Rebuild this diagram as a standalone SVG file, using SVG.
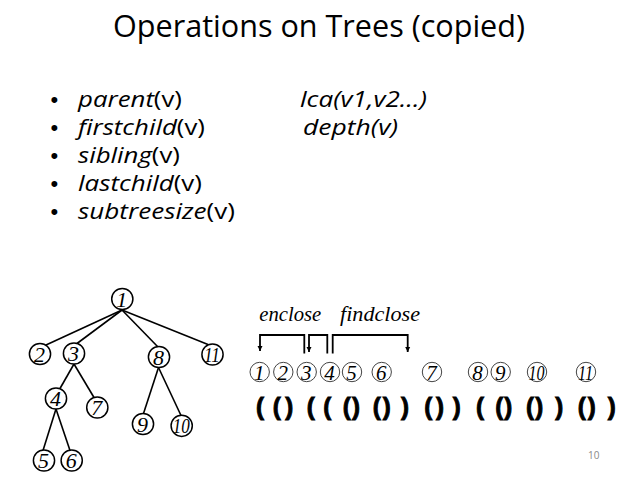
<svg xmlns="http://www.w3.org/2000/svg" width="638" height="478" viewBox="0 0 638 478">
<style>
.title{font-family:"Open Sans","Liberation Sans",sans-serif;font-size:31px;fill:#000}
.item{font-family:"Open Sans","Liberation Sans",sans-serif;font-size:21px;fill:#000}
.bul{font-family:"Liberation Sans",Arial,sans-serif;font-size:22px;fill:#000}
.it{font-style:italic}
.tn circle{fill:#fff;stroke:#000;stroke-width:1.5}
.sn circle{fill:#fff;stroke:#444;stroke-width:1}
.num{font-family:"Liberation Serif","Times New Roman",serif;font-style:italic;font-size:22px;fill:#000;text-anchor:middle}
.sn .num{font-size:21px}
.edge{stroke:#000;stroke-width:1.6;fill:none}
.br{stroke:#000;stroke-width:1.8;fill:none}
.lbl{font-family:"Liberation Serif","Times New Roman",serif;font-style:italic;font-size:20px;fill:#000}
.par{font-family:"Liberation Sans",Arial,sans-serif;font-weight:bold;font-size:24px;fill:#000;stroke:#000;stroke-width:0.9;text-anchor:middle}
.pg{font-family:"Open Sans","Liberation Sans",sans-serif;font-size:10px;fill:#888}
</style>
<defs>
<marker id="ah" viewBox="0 0 10 10" refX="10" refY="5" markerWidth="5" markerHeight="6" markerUnits="userSpaceOnUse" orient="auto">
<path d="M0,0 L10,5 L0,10 z" fill="#000"/>
</marker>
</defs>
<rect width="638" height="478" fill="#fff"/>
<text class="title" x="113" y="37" textLength="412" lengthAdjust="spacingAndGlyphs">Operations on Trees (copied)</text>
<g id="bullets">
<text class="bul" x="50.5" y="106.5">•</text>
<text class="bul" x="50.5" y="135">•</text>
<text class="bul" x="50.5" y="163">•</text>
<text class="bul" x="50.5" y="191">•</text>
<text class="bul" x="50.5" y="218.5">•</text>
<text class="item" x="78" y="106.5" textLength="104" lengthAdjust="spacingAndGlyphs"><tspan class="it">parent</tspan>(v)</text>
<text class="item" x="78" y="135" textLength="127" lengthAdjust="spacingAndGlyphs"><tspan class="it">firstchild</tspan>(v)</text>
<text class="item" x="78" y="163" textLength="102" lengthAdjust="spacingAndGlyphs"><tspan class="it">sibling</tspan>(v)</text>
<text class="item" x="78" y="191" textLength="124" lengthAdjust="spacingAndGlyphs"><tspan class="it">lastchild</tspan>(v)</text>
<text class="item" x="78" y="218.5" textLength="157" lengthAdjust="spacingAndGlyphs"><tspan class="it">subtreesize</tspan>(v)</text>
<text class="item it" x="300" y="106.5" textLength="127" lengthAdjust="spacingAndGlyphs">lca(v1,v2…)</text>
<text class="item it" x="303" y="135" textLength="95" lengthAdjust="spacingAndGlyphs">depth(v)</text>
</g>
<g id="tree-edges">
<line class="edge" x1="122" y1="310" x2="46" y2="345"/>
<line class="edge" x1="122" y1="310" x2="77" y2="343.5"/>
<line class="edge" x1="122" y1="310" x2="158" y2="347"/>
<line class="edge" x1="122" y1="310" x2="208" y2="344.5"/>
<line class="edge" x1="74" y1="364" x2="60" y2="388.5"/>
<line class="edge" x1="74" y1="364" x2="94" y2="397.5"/>
<line class="edge" x1="56" y1="409" x2="43" y2="450.5"/>
<line class="edge" x1="56" y1="409" x2="70" y2="450.5"/>
<line class="edge" x1="158.5" y1="367.5" x2="143.5" y2="413.5"/>
<line class="edge" x1="158.5" y1="367.5" x2="181" y2="415.5"/>
</g>
<g id="t1" class="tn"><circle cx="122.3" cy="299" r="10.6"/><text class="num" x="121.8" y="306.5">1</text></g>
<g id="t2" class="tn"><circle cx="40" cy="354" r="10.6"/><text class="num" x="39.5" y="361.5">2</text></g>
<g id="t3" class="tn"><circle cx="74" cy="353.5" r="10.6"/><text class="num" x="73.5" y="361">3</text></g>
<g id="t4" class="tn"><circle cx="56" cy="398.5" r="10.6"/><text class="num" x="55.5" y="406">4</text></g>
<g id="t5" class="tn"><circle cx="44" cy="460.5" r="10.6"/><text class="num" x="43.5" y="468">5</text></g>
<g id="t6" class="tn"><circle cx="71.7" cy="460.5" r="10.6"/><text class="num" x="71.2" y="468">6</text></g>
<g id="t7" class="tn"><circle cx="97.3" cy="407.5" r="10.6"/><text class="num" x="96.8" y="415">7</text></g>
<g id="t8" class="tn"><circle cx="159" cy="357" r="10.6"/><text class="num" x="158.5" y="364.5">8</text></g>
<g id="t9" class="tn"><circle cx="143" cy="424" r="10.6"/><text class="num" x="142.5" y="431.5">9</text></g>
<g id="t10" class="tn"><circle cx="181.7" cy="425.8" r="10.6"/><text class="num" x="181.2" y="433.3" textLength="17" lengthAdjust="spacingAndGlyphs">10</text></g>
<g id="t11" class="tn"><circle cx="212.5" cy="354.5" r="10.6"/><text class="num" x="212" y="362" textLength="16" lengthAdjust="spacingAndGlyphs">11</text></g>
<g id="labels">
<text class="lbl" x="259.3" y="320.7" textLength="62" lengthAdjust="spacingAndGlyphs">enclose</text>
<text class="lbl" x="340" y="320.7" textLength="80" lengthAdjust="spacingAndGlyphs">findclose</text>
</g>
<g id="brackets">
<path class="br" d="M304.3,353.5 V335 H260 V351" marker-end="url(#ah)"/>
<path class="br" d="M327.3,353.5 V335 H309 V352" marker-end="url(#ah)"/>
<path class="br" d="M332.7,353.5 V335 H407.7 V352" marker-end="url(#ah)"/>
</g>
<g id="s1" class="sn"><circle cx="259.7" cy="372" r="9.7"/><text class="num" x="259.2" y="379.5">1</text></g>
<g id="s2" class="sn"><circle cx="283.3" cy="372" r="9.7"/><text class="num" x="282.8" y="379.5">2</text></g>
<g id="s3" class="sn"><circle cx="306.7" cy="372" r="9.7"/><text class="num" x="306.2" y="379.5">3</text></g>
<g id="s4" class="sn"><circle cx="330" cy="372" r="9.7"/><text class="num" x="329.5" y="379.5">4</text></g>
<g id="s5" class="sn"><circle cx="352" cy="372" r="9.7"/><text class="num" x="351.5" y="379.5">5</text></g>
<g id="s6" class="sn"><circle cx="381.7" cy="372" r="9.7"/><text class="num" x="381.2" y="379.5">6</text></g>
<g id="s7" class="sn"><circle cx="432" cy="372" r="9.7"/><text class="num" x="431.5" y="379.5">7</text></g>
<g id="s8" class="sn"><circle cx="478" cy="372" r="9.7"/><text class="num" x="477.5" y="379.5">8</text></g>
<g id="s9" class="sn"><circle cx="500.7" cy="372" r="9.7"/><text class="num" x="500.2" y="379.5">9</text></g>
<g id="s10" class="sn"><circle cx="537" cy="372" r="9.7"/><text class="num" x="536.5" y="379.5" textLength="16" lengthAdjust="spacingAndGlyphs">10</text></g>
<g id="s11" class="sn"><circle cx="586" cy="372" r="9.7"/><text class="num" x="585.5" y="379.5" textLength="15" lengthAdjust="spacingAndGlyphs">11</text></g>
<text class="par" x="260 276.7 289.3 310.7 327.3 346.7 356 376.7 386.7 405 428.3 440 456.7 480 499.3 508.3 530 539.3 559.3 581.7 591.7 611.7" y="414.5">(()((()())())(()())())</text>
<text class="pg" x="588" y="459">10</text>
</svg>
